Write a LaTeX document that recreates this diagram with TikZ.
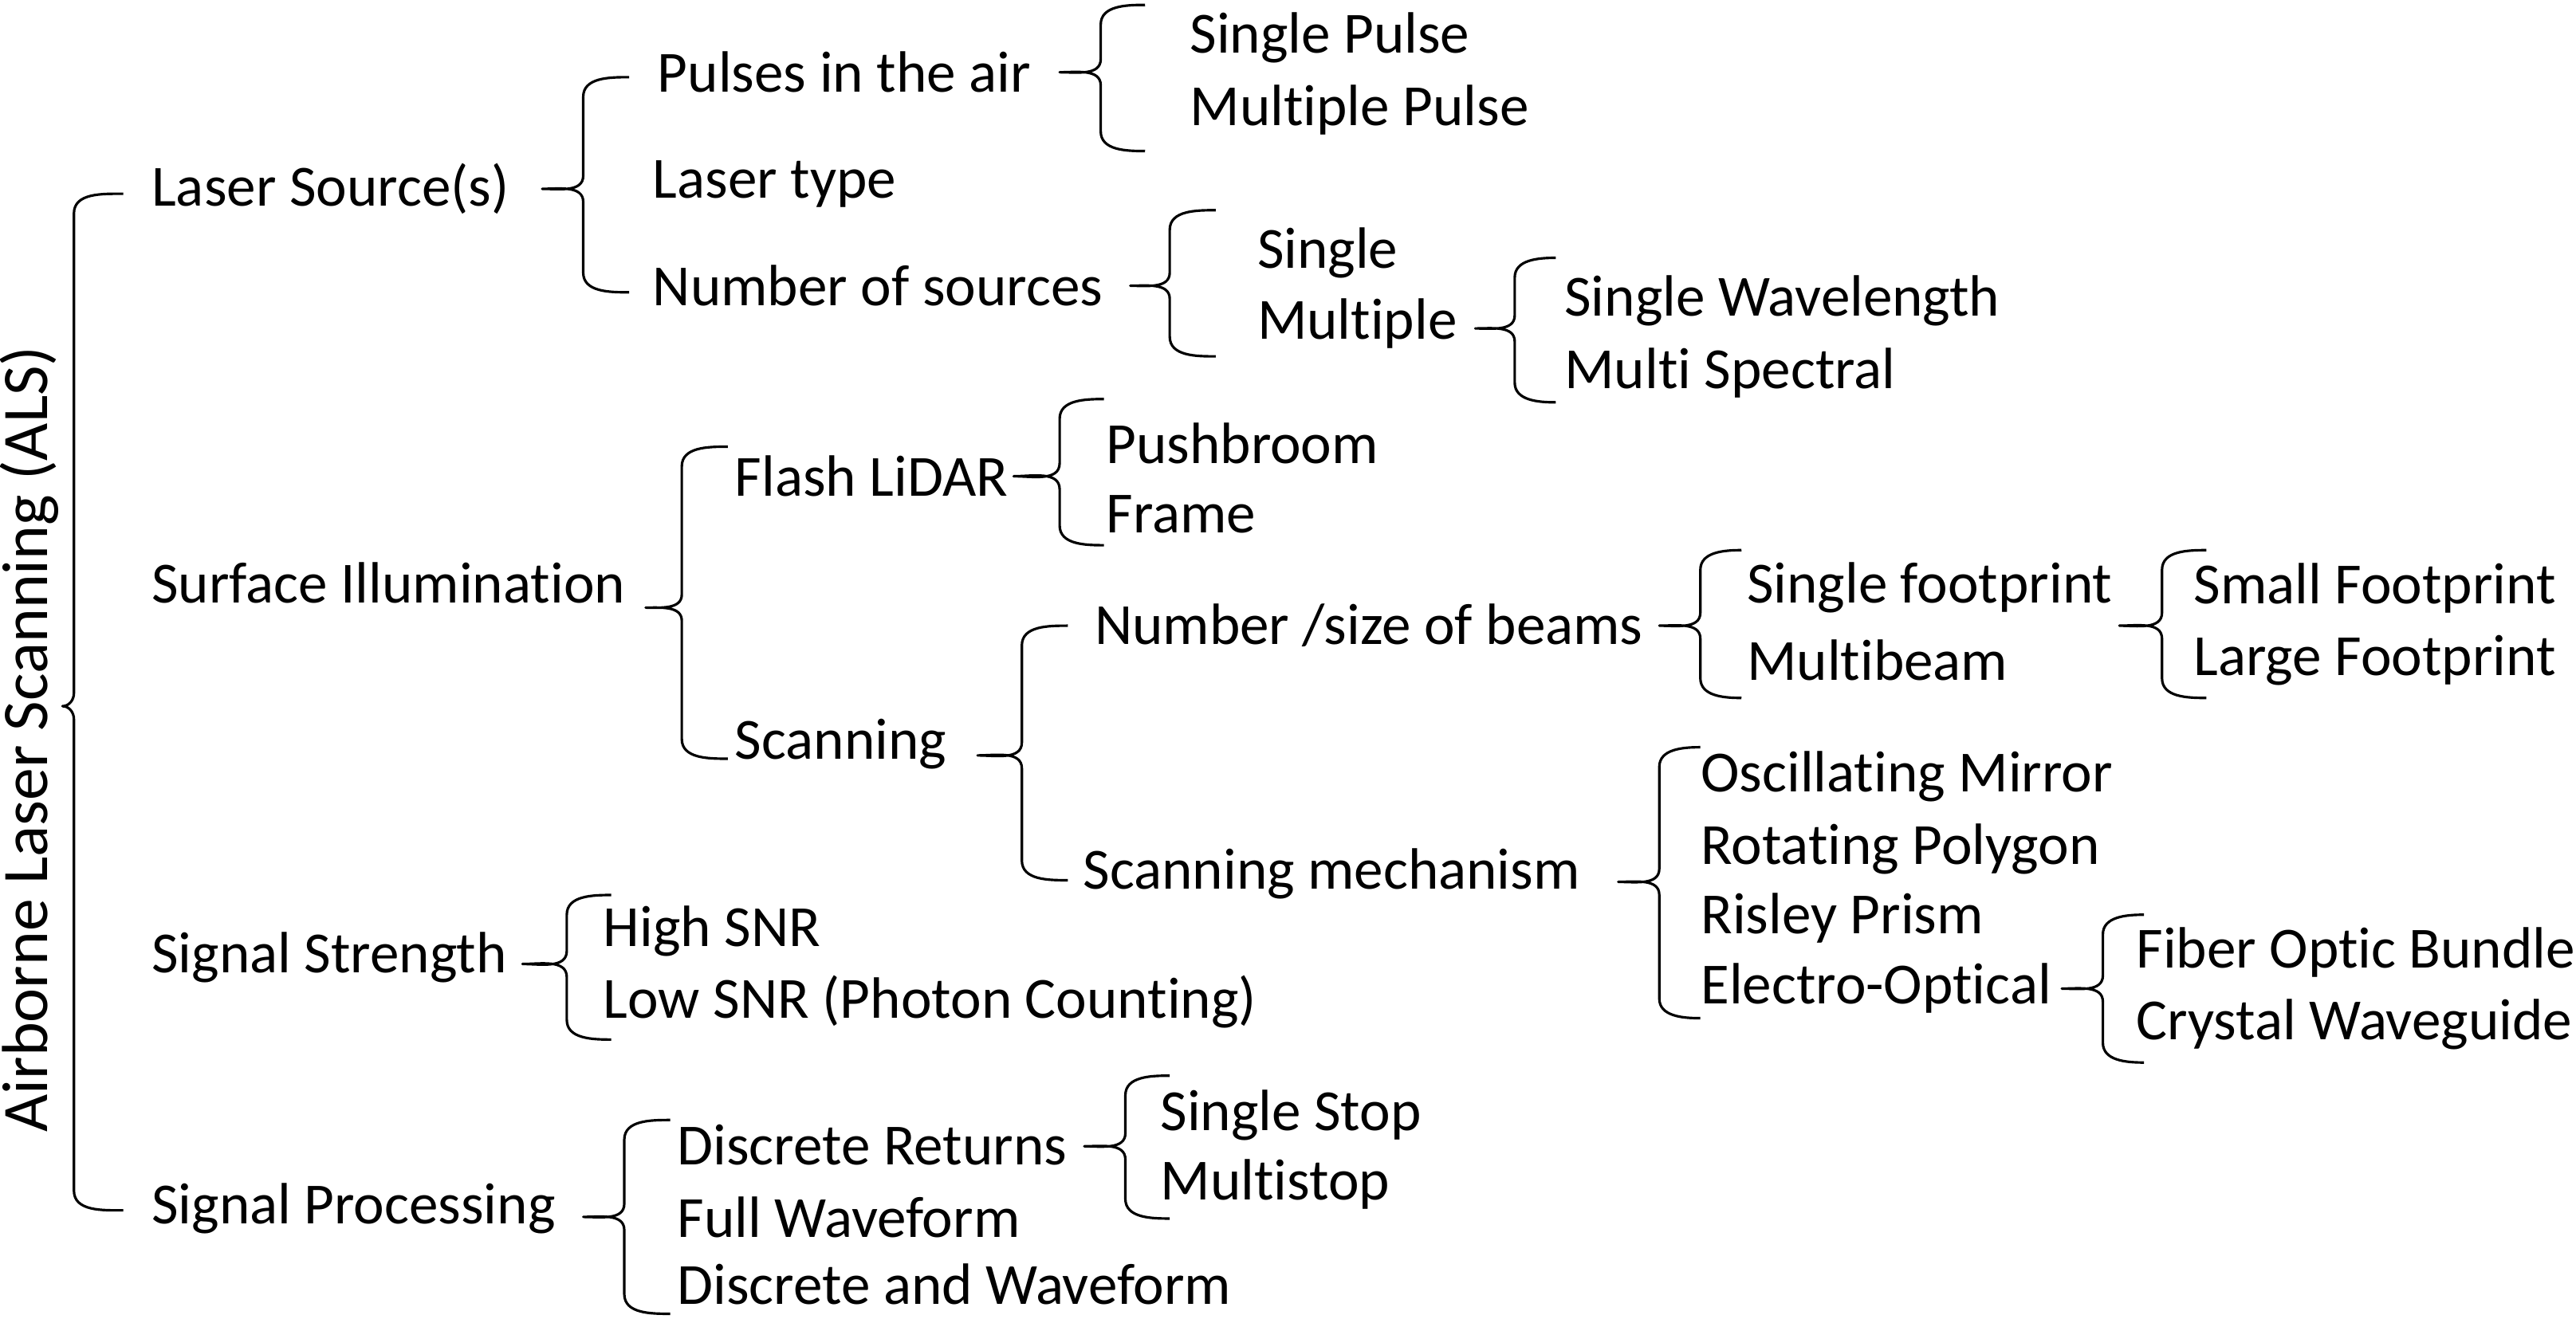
\documentclass[tikz,border=0pt]{standalone}
\usepackage{fontspec}
\setmainfont{Carlito}[Ligatures={NoCommon}]
\begin{document}
\begin{tikzpicture}[x=0.020606cm,y=-0.020606cm,
  t/.style={anchor=west,inner sep=0pt,font=\fontsize{20.8}{22}\selectfont},
  br/.style={line width=0.9pt,line join=round}]
\useasboundingbox (0,0) rectangle (1568,803);
\newcommand\brc[6]{%
  \draw[br] (#6,#2) to[out=180,in=90] (#1,#2+12) -- (#1,#4-8) to[out=-90,in=0] (#5,#4) to[out=0,in=90] (#1,#4+8) -- (#1,#3-12) to[out=-90,in=180] (#6,#3);}
% root
\node[t,anchor=center,rotate=90,font=\fontsize{23.2}{25}\selectfont] (root) at (18,450) {Airborne Laser Scanning (ALS)};
\brc{45}{118}{737}{430}{38}{75}
\node[t] (ls) at (92,115) {Laser Source(s)};
\node[t] (si) at (92,355) {Surface Illumination};
\node[t] (ss) at (92,583) {Signal Strength};
\node[t] (sp) at (92,736) {Signal Processing};
% laser source
\brc{355}{47}{178}{115}{330}{383}
\node[t] (pa) at (400,44) {Pulses in the air};
\node[t] (lt) at (397,112) {Laser type};
\node[t] (ns) at (397,174) {Number of sources};
\brc{670}{3}{92}{44}{645}{697}
\node[t] (sp1) at (724,23) {Single Pulse};
\node[t] (mp) at (724,67) {Multiple Pulse};
\brc{712}{128}{217}{174}{688}{740}
\node[t] (sg) at (765,154) {Single};
\node[t] (ml) at (765,197) {Multiple};
\brc{922}{157}{245}{200}{898}{947}
\node[t] (sw) at (952,183) {Single Wavelength};
\node[t] (ms) at (952,227) {Multi Spectral};
% surface illumination
\brc{415}{272}{462}{370}{393}{443}
\node[t] (fl) at (447,290) {Flash LiDAR};
\node[t] (sc) at (447,453) {Scanning};
\brc{645}{243}{332}{290}{617}{672}
\node[t] (pb) at (673,270) {Pushbroom};
\node[t] (fr) at (673,313) {Frame};
\brc{622}{381}{536}{460}{595}{650}
\node[t] (nb) at (666,381) {Number /size of beams};
\node[t] (sm) at (659,532) {Scanning mechanism};
\brc{1035}{335}{425}{381}{1010}{1060}
\node[t] (sf) at (1063,358) {Single footprint};
\node[t] (mb) at (1063,402) {Multibeam};
\brc{1316}{335}{425}{381}{1290}{1343}
\node[t] (smf) at (1335,358) {Small Footprint};
\node[t] (lf) at (1335,402) {Large Footprint};
\brc{1010}{455}{620}{537}{985}{1035}
\node[t] (om) at (1035,473) {Oscillating Mirror};
\node[t] (rp) at (1035,517) {Rotating Polygon};
\node[t] (rsp) at (1035,559) {Risley Prism};
\node[t] (eo) at (1035,602) {Electro-Optical};
\brc{1280}{557}{647}{602}{1255}{1305}
\node[t] (fob) at (1300,580) {Fiber Optic Bundle};
\node[t] (cw) at (1300,624) {Crystal Waveguide};
% signal strength
\brc{345}{545}{633}{587}{318}{372}
\node[t] (hs) at (367,567) {High SNR};
\node[t] (lsn) at (367,610) {Low SNR (Photon Counting)};
% signal processing
\brc{380}{682}{800}{741}{355}{408}
\node[t] (dr) at (412,697) {Discrete Returns};
\node[t] (fw) at (412,741) {Full Waveform};
\node[t] (dw) at (412,782) {Discrete and Waveform};
\brc{685}{655}{742}{698}{660}{712}
\node[t] (sst) at (706,679) {Single Stop};
\node[t] (mst) at (706,721) {Multistop};
\end{tikzpicture}
\end{document}
